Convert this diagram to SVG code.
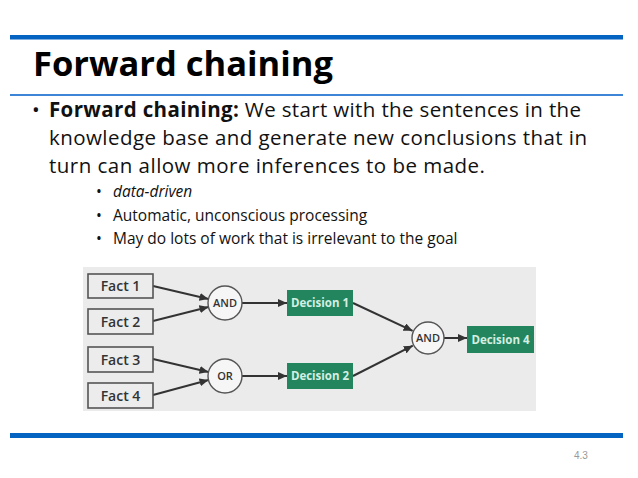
<svg xmlns="http://www.w3.org/2000/svg" width="638" height="478" viewBox="0 0 638 478">
<defs>
<style>
.title{font-family:"Open Sans","Noto Sans",sans-serif;font-weight:700;font-size:34.5px;fill:#000}
.body{font-family:"Open Sans","Noto Sans",sans-serif;font-size:20.5px;fill:#111}
.sub{font-family:"Open Sans","Noto Sans",sans-serif;font-size:15.5px;fill:#111}
.fact rect{fill:#ececec;stroke:#555;stroke-width:1.6}
.fact text{font-family:"Open Sans","Noto Sans",sans-serif;font-weight:600;font-size:14px;fill:#333;text-anchor:middle}
.gate circle{fill:#f6f6f6;stroke:#555;stroke-width:1.4}
.gate text{font-family:"Open Sans","Noto Sans",sans-serif;font-weight:600;font-size:11px;fill:#333;text-anchor:middle}
.dec rect{fill:#23855d}
.dec text{font-family:"Open Sans","Noto Sans",sans-serif;font-weight:700;font-size:11.5px;fill:#d4efe2;text-anchor:middle}
.conn path{fill:none;stroke:#333;stroke-width:2;marker-end:url(#ah)}
</style>
<marker id="ah" markerWidth="9" markerHeight="8" refX="9" refY="4" orient="auto" markerUnits="userSpaceOnUse">
<path d="M0,0 L9,4 L0,8 z" fill="#333"/>
</marker>
</defs>
<rect width="638" height="478" fill="#fff"/>
<rect x="10" y="35" width="613" height="4.5" fill="#0563c1"/>
<text class="title" x="33" y="76">Forward chaining</text>
<rect x="10" y="94" width="613" height="2" fill="#3d85d6"/>
<text class="body" x="32" y="117">•</text>
<text class="body" x="49" y="117" textLength="532"><tspan font-weight="700">Forward chaining:</tspan> We start with the sentences in the</text>
<text class="body" x="49" y="145" textLength="538">knowledge base and generate new conclusions that in</text>
<text class="body" x="49" y="173" textLength="436">turn can allow more inferences to be made.</text>
<text class="sub" x="96" y="197">•</text>
<text class="sub" x="113" y="197" font-style="italic">data-driven</text>
<text class="sub" x="96" y="221">•</text>
<text class="sub" x="113" y="221">Automatic, unconscious processing</text>
<text class="sub" x="96" y="244">•</text>
<text class="sub" x="113" y="244">May do lots of work that is irrelevant to the goal</text>
<rect x="83" y="267" width="453" height="144" fill="#ebebeb"/>
<g class="conn">
<path d="M153,286 L208.5,299"/>
<path d="M153,321 L208.5,307"/>
<path d="M153,359 L208.5,372"/>
<path d="M153,395 L208.5,380"/>
<path d="M242,303 L287,303"/>
<path d="M242,376 L287,376"/>
<path d="M353,303 L412.6,330.8"/>
<path d="M353,376 L412.8,345.7"/>
<path d="M444,338 L467,338"/>
</g>
<g id="fact1" class="fact"><rect x="88" y="274" width="65" height="24"/><text x="120.5" y="291">Fact 1</text></g>
<g id="fact2" class="fact"><rect x="88" y="309" width="65" height="25"/><text x="120.5" y="327">Fact 2</text></g>
<g id="fact3" class="fact"><rect x="88" y="347" width="65" height="25"/><text x="120.5" y="365">Fact 3</text></g>
<g id="fact4" class="fact"><rect x="88" y="383" width="65" height="25"/><text x="120.5" y="401">Fact 4</text></g>
<g id="and1" class="gate"><circle cx="225" cy="303" r="17"/><text x="225" y="307">AND</text></g>
<g id="or1" class="gate"><circle cx="225" cy="376" r="17"/><text x="225" y="380">OR</text></g>
<g id="dec1" class="dec"><rect x="287" y="290" width="66" height="26"/><text x="320" y="307">Decision 1</text></g>
<g id="dec2" class="dec"><rect x="287" y="363" width="66" height="26"/><text x="320" y="380">Decision 2</text></g>
<g id="and2" class="gate"><circle cx="428" cy="338" r="16"/><text x="428" y="342">AND</text></g>
<g id="dec4" class="dec"><rect x="467" y="326" width="67" height="27"/><text x="500.5" y="344">Decision 4</text></g>
<rect x="10" y="433" width="613" height="5" fill="#0563c1"/>
<text x="574" y="459" font-family="Liberation Sans, sans-serif" font-size="10" fill="#999">4.3</text>
</svg>
